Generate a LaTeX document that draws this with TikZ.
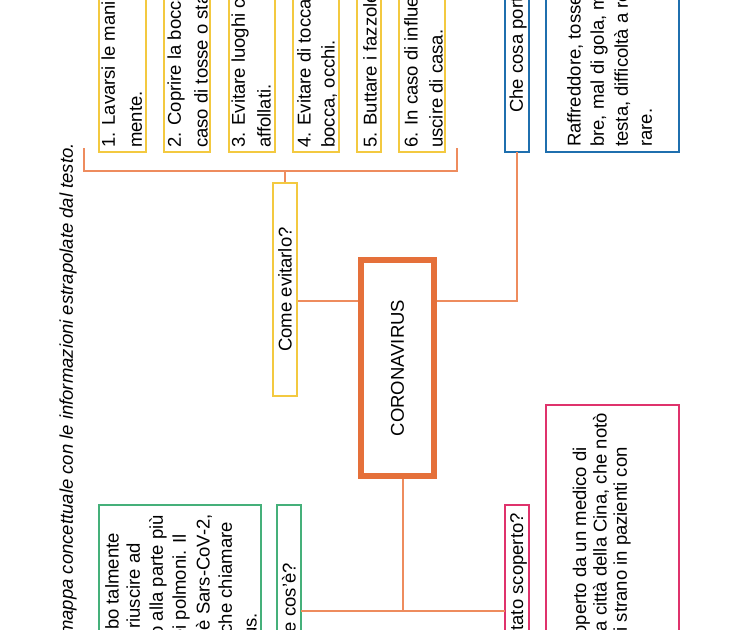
\documentclass[tikz,border=0pt]{standalone}
\usepackage{fontspec}
\setmainfont{Liberation Sans}
\definecolor{yel}{HTML}{F3C940}
\definecolor{org}{HTML}{E5703A}
\definecolor{lorg}{HTML}{EE8C5E}
\definecolor{blu}{HTML}{1F6FAE}
\definecolor{grn}{HTML}{45B07A}
\definecolor{pnk}{HTML}{DF336C}
\begin{document}
\begin{tikzpicture}[x=1pt,y=-1pt,
  t/.style={rotate=90,inner sep=0pt,font=\fontsize{18.5}{22}\selectfont},
  bs/.style={anchor=west,t},
  es/.style={anchor=east,t},
  box/.style={line width=1.1pt},
  ln/.style={draw=lorg,line width=1.1pt}]
\useasboundingbox (0,0) rectangle (740,630);
\clip (0,0) rectangle (740,630);
% caption
\node[es,font=\itshape\fontsize{18.5}{22}\selectfont] (cap) at (68,143) {mappa concettuale con le informazioni estrapolate dal testo.};
% yellow boxes
\foreach \a/\b/\n in {99/146/y1,164/210/y2,229/275/y3,293/339/y4,357/381/y5,399/445/y6}
  \draw[box,yel] (\a,-20) rectangle (\b,152);
\node[bs] (l1a) at (110,148) {1. Lavarsi le mani regolar-};
\node[bs] (l1b) at (136,148) {mente.};
\node[bs] (l2a) at (176,148) {2. Coprire la bocca in};
\node[bs] (l2b) at (201,148) {caso di tosse o starnuti.};
\node[bs] (l3a) at (240,148) {3. Evitare luoghi chiusi e};
\node[bs] (l3b) at (264,148) {affollati.};
\node[bs] (l4a) at (305,148) {4. Evitare di toccare naso,};
\node[bs] (l4b) at (329,148) {bocca, occhi.};
\node[bs] (l5a) at (370,148) {5. Buttare i fazzoletti usati.};
\node[bs] (l6a) at (411,148) {6. In caso di influenza non};
\node[bs] (l6b) at (436,148) {uscire di casa.};
% bracket
\coordinate (bl) at (84,148); \coordinate (br) at (457,148);
\coordinate (bm) at (285,171);
\draw[ln] (bl) |- (br |- bm) -- (br);
% come evitarlo
\node[draw=yel,box,rotate=90,minimum width=213pt,minimum height=24pt,inner sep=0pt,font=\fontsize{18.5}{22}\selectfont] (ce) at (285,289.5) {Come evitarlo?};
\draw[ln] (bm) -- (ce.east);
% center
\node[draw=org,line width=6pt,rotate=90,minimum width=216pt,minimum height=73pt,inner sep=0pt,font=\fontsize{18.5}{22}\selectfont] (cv) at (397.5,368) {CORONAVIRUS};
\draw[ln] (ce.south |- 0,301) -- (cv.north |- 0,301);
% right branch
\draw[box,blu] (505,-20) rectangle (529,152);
\node[bs] (cc) at (518,113) {Che cosa porta?};
\coordinate (ccb) at (517,152);
\draw[ln] (cv.south |- 0,301) -| (ccb);
\draw[box,blu] (546,-20) rectangle (679,152);
\node[bs] (r1) at (575,147) {Raffreddore, tosse, feb-};
\node[bs] (r2) at (599,147) {bre, mal di gola, mal di};
\node[bs] (r3) at (623,147) {testa, difficoltà a respi-};
\node[bs] (r4) at (647,147) {rare.};
% bottom branch
\draw[box,grn] (277,505) rectangle (301,660);
\node[es] (cs) at (289,563) {Che cos'è?};
\draw[box,pnk] (505,505) rectangle (529,660);
\node[es] (sc) at (517,513) {È stato scoperto?};
\coordinate (jl) at (301,611); \coordinate (jr) at (505,611);
\coordinate (jt) at (403,611);
\draw[ln] (cv.west -| jt) -- (jt);
\draw[ln] (jl) -- (jr);
% green text box
\draw[box,grn] (99,505) rectangle (261,660);
\node[es] (g1) at (112,533) {microbo talmente};
\node[es] (g2) at (135,543) {piccolo da riuscire ad};
\node[es] (g3) at (158,515) {arrivare fino alla parte più};
\node[es] (g4) at (181,534) {interna dei polmoni. Il};
\node[es] (g5) at (204,514) {suo nome è Sars-CoV-2,};
\node[es] (g6) at (227,522) {ma si può anche chiamare};
\node[es] (g7) at (250,613) {nuovo coronavirus.};
% pink text box
\draw[box,pnk] (546,405) rectangle (679,660);
\node[es] (p1) at (580,447) {È stato scoperto da un medico di};
\node[es] (p2) at (601,413) {Wuhan, una città della Cina, che notò};
\node[es] (p3) at (622,447) {qualcosa di strano in pazienti con};
\end{tikzpicture}
\end{document}
